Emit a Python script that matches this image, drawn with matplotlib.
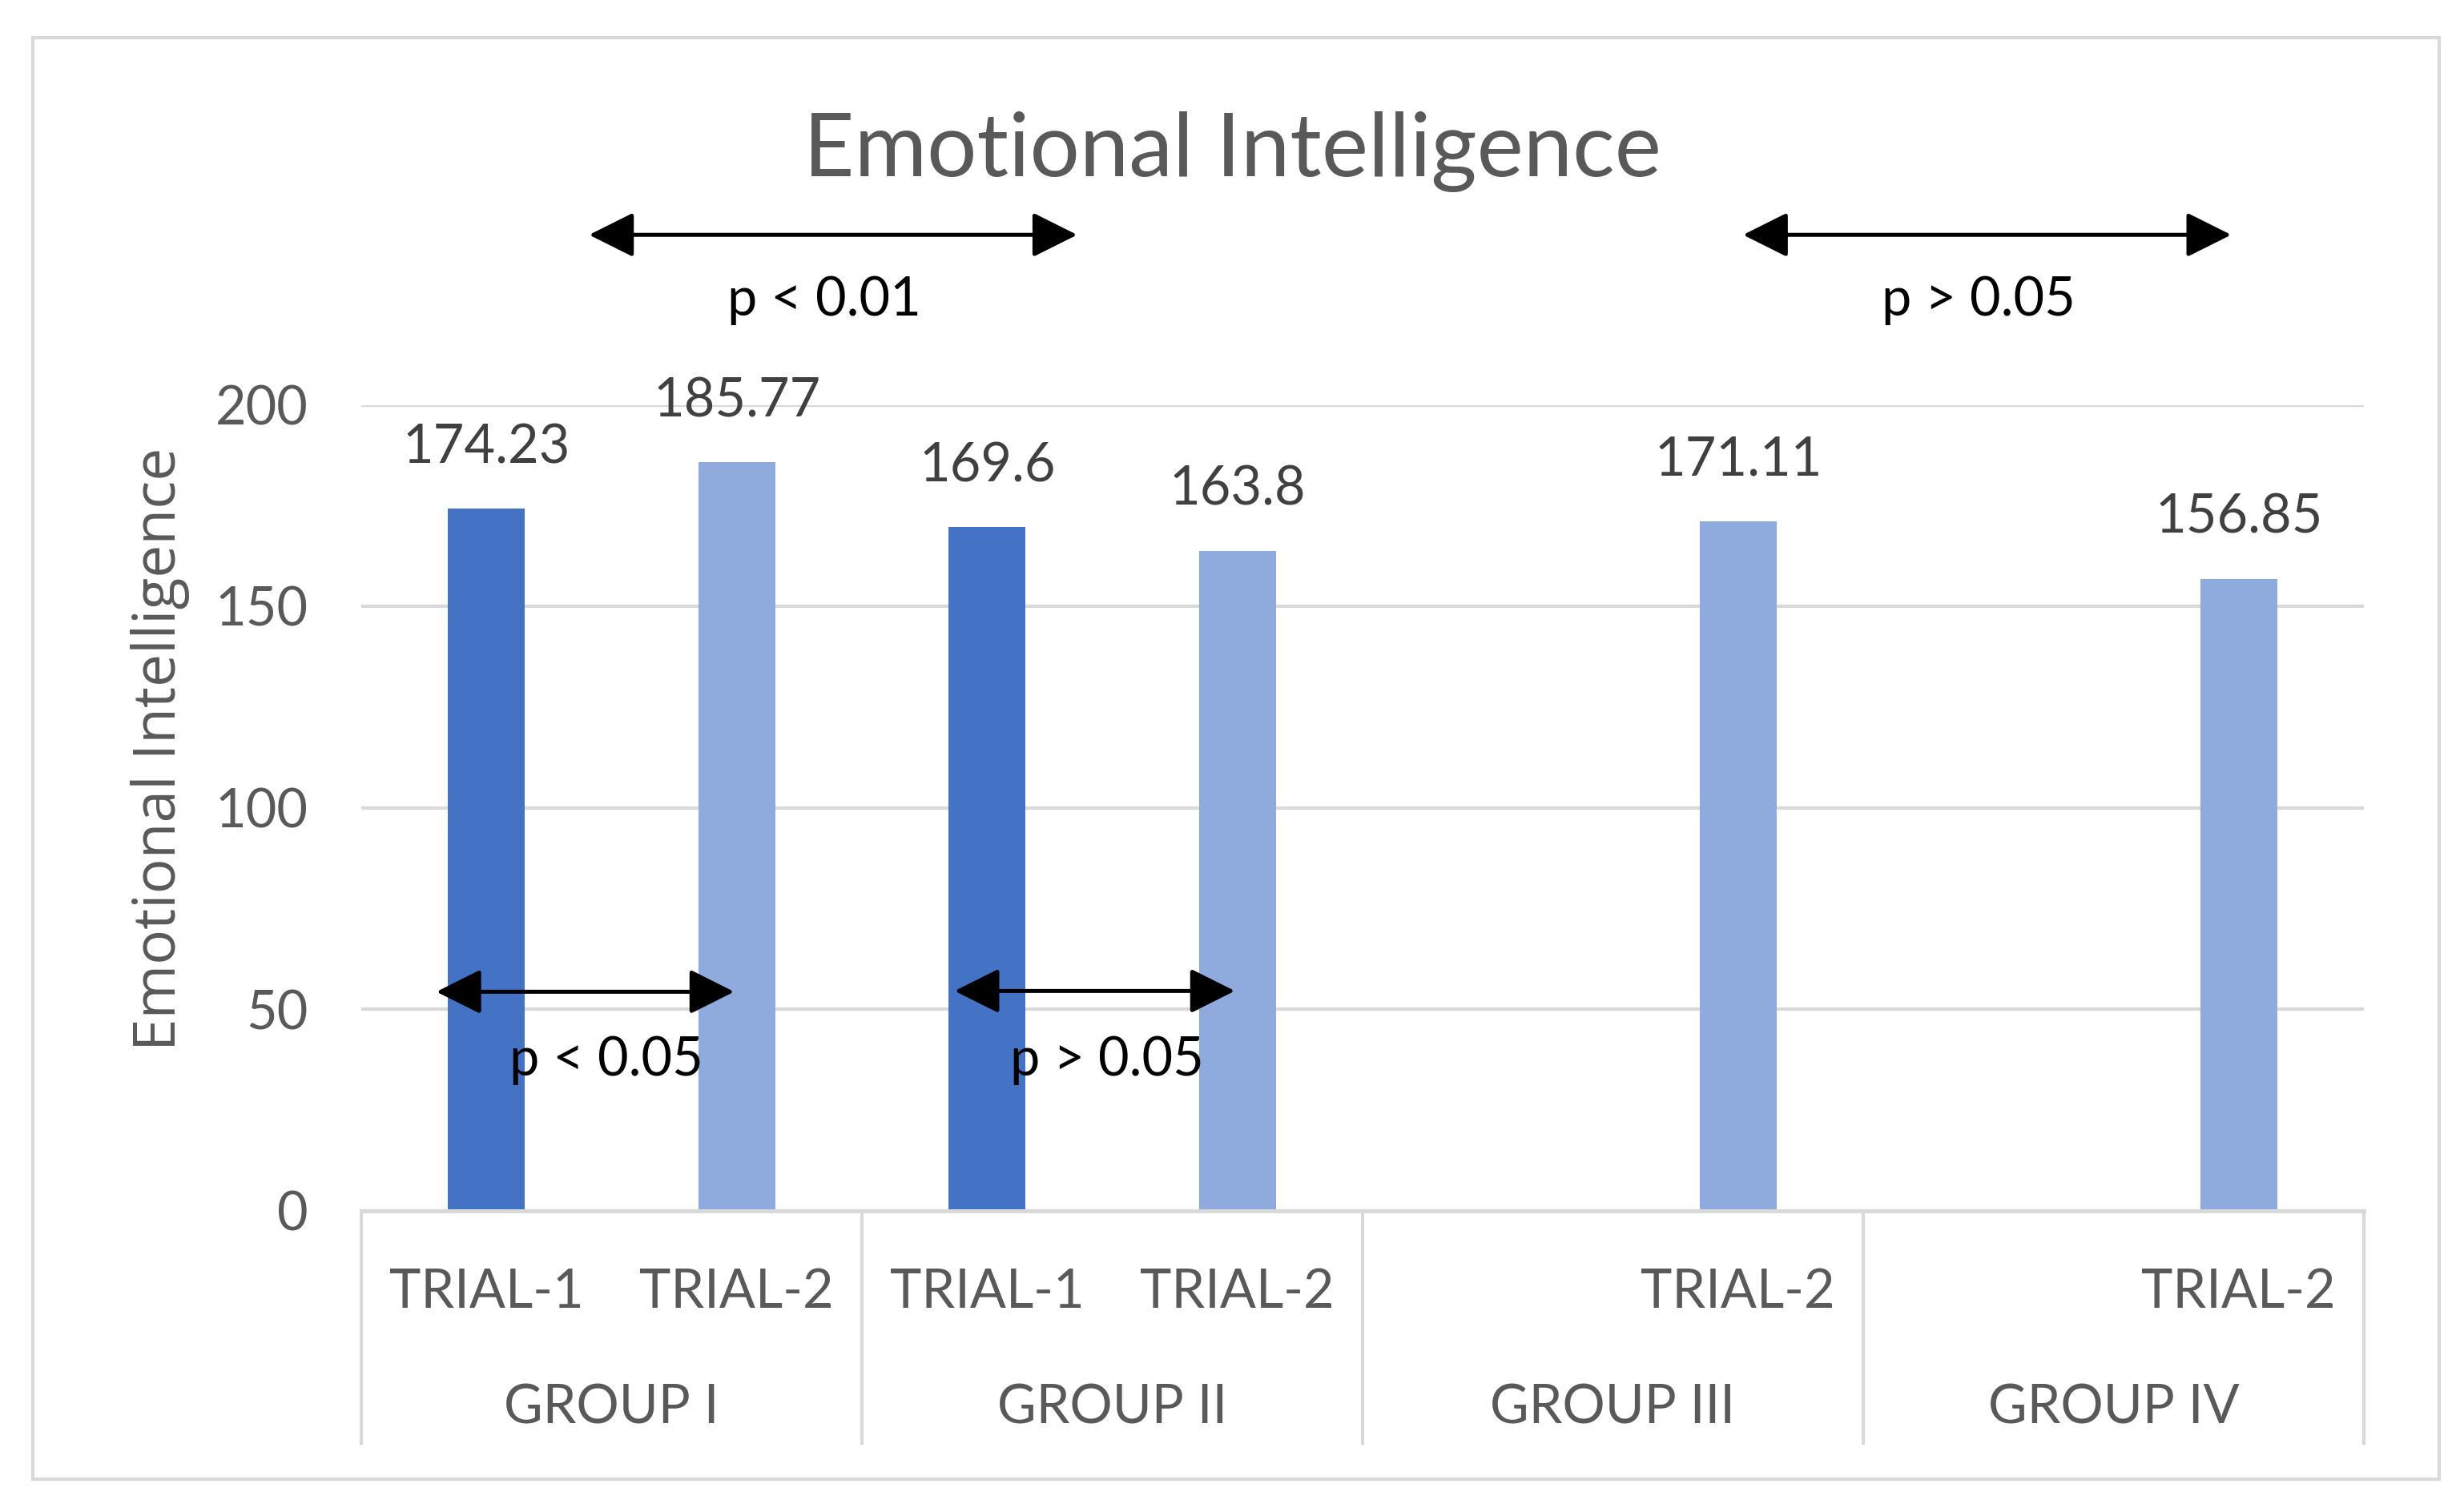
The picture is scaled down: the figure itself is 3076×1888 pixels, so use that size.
import matplotlib
matplotlib.use('Agg')
import matplotlib.pyplot as plt
from matplotlib.transforms import blended_transform_factory
from matplotlib.patches import Rectangle

plt.rcParams['font.family'] = ['Lato', 'DejaVu Sans']

# data
groups = ['GROUP I', 'GROUP II', 'GROUP III', 'GROUP IV']
trial_names = ['TRIAL-1', 'TRIAL-2']
trial1 = [174.23, 169.6, None, None]
trial2 = [185.77, 163.8, 171.11, 156.85]
yticks = [0, 50, 100, 150, 200]

# significance brackets: (x from, x to, y, label x, label y, text)
brackets = [
    (0.41, 2.36, 242.2, 1.35, 222.2, 'p < 0.01'),
    (5.02, 6.97, 242.2, 5.96, 222.2, 'p > 0.05'),
    (-0.2, 0.99, 54.3, 0.48, 33.5, 'p < 0.05'),
    (1.87, 2.99, 54.5, 2.48, 33.5, 'p > 0.05'),
]

dark = '#4472C4'
light = '#8FAADC'
grid_c = '#D9D9D9'
txt_c = '#595959'
fs = 24

W, H = 3076, 1888
fig = plt.figure(figsize=(W / 200, H / 200), dpi=200)

# outer chart border
fig.patches.append(Rectangle((41 / W, 1 - 1847 / H), (3045 - 41) / W, (1847 - 47) / H,
                             transform=fig.transFigure, fill=False,
                             edgecolor=grid_c, lw=1.5))

ax = fig.add_axes([451 / W, 1 - 1511.5 / H, 2500 / W, 1006 / H])

# bar positions: two slots per group
x1 = [2 * i for i in range(len(groups))]
x2 = [2 * i + 1 for i in range(len(groups))]
bw = 0.307
for x, v in zip(x1, trial1):
    if v is not None:
        ax.bar(x, v, width=bw, color=dark, zorder=3)
for x, v in zip(x2, trial2):
    ax.bar(x, v, width=bw, color=light, zorder=3)

# value labels
for x, v in list(zip(x1, trial1)) + list(zip(x2, trial2)):
    if v is None:
        continue
    ax.annotate(f'{v:g}', (x, v), xytext=(0, 20.5), textcoords='offset points',
                ha='center', va='baseline', fontsize=fs, color='#404040',
                annotation_clip=False)

ax.set_xlim(-0.5, 2 * len(groups) - 0.5)
ax.set_ylim(0, 200)
ax.set_yticks(yticks)
ax.set_yticklabels([str(t) for t in yticks], fontsize=fs, color=txt_c)
ax.tick_params(axis='y', length=0, pad=24)
ax.set_xticks([])
ax.grid(axis='y', color=grid_c, lw=1.5, zorder=0)
for s in ['top', 'left', 'right']:
    ax.spines[s].set_visible(False)
ax.spines['bottom'].set_color(grid_c)
ax.spines['bottom'].set_linewidth(1.8)
ax.spines['bottom'].set_zorder(4)

# multi-level category axis
tr = blended_transform_factory(ax.transData, fig.transFigure)
y_axis = 1 - 1511.5 / H
y_bot = 1 - 1802 / H
for i, g in enumerate(groups):
    for j, t in enumerate(trial_names):
        xx = 2 * i + j
        vals = trial1 if j == 0 else trial2
        if vals[i] is None:
            continue
        ax.text(xx, 1 - 1614 / H, t, transform=tr, ha='center', va='center',
                fontsize=fs, color=txt_c)
    ax.text(2 * i + 0.5, 1 - 1759 / H, g, transform=tr, ha='center', va='center',
            fontsize=fs, color=txt_c)
for k in range(len(groups) + 1):
    ax.plot([2 * k - 0.5, 2 * k - 0.5], [y_axis, y_bot], transform=tr,
            color=grid_c, lw=1.5, clip_on=False)

# double arrows and p-values
for xa, xb, ya, xt, yt, lab in brackets:
    ax.annotate('', xy=(xb, ya), xytext=(xa, ya),
                arrowprops=dict(arrowstyle='<|-|>,head_length=0.86,head_width=0.43',
                                mutation_scale=20, lw=1.8, color='black',
                                shrinkA=0, shrinkB=0),
                annotation_clip=False, zorder=5)
    ax.text(xt, yt, lab, ha='center', va='baseline', fontsize=fs, color='black',
            zorder=5, clip_on=False)

fig.text(0.5, 1 - 220 / H, 'Emotional Intelligence', ha='center', va='baseline',
         fontsize=39.6, color=txt_c)
fig.text(200 / W, 1 - 935 / H, 'Emotional Intelligence', rotation=90,
         ha='center', va='center', fontsize=26.3, color=txt_c,
         family=['Open Sans', 'DejaVu Sans'])

fig.savefig('out.png', dpi=200)
